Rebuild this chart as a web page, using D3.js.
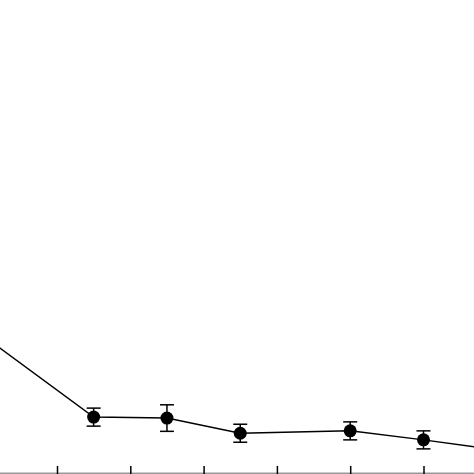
<!DOCTYPE html><html><head><script src="https://d3js.org/d3.v7.min.js"></script>
<style>body{margin:0;background:#fff}</style></head><body><svg id="c" width="474" height="474"></svg>
<script>
const xs = [-1, 0.5, 1.5, 2.5, 4, 5, 6];
const means = [29.1, 12.0, 11.8, 8.6, 9.1, 7.2, 5.1];
const errs = [0, 1.9, 2.8, 1.9, 1.9, 1.9, 0];
const ticks = [0, 1, 2, 3, 4, 5];
const svg = d3.select("#c");
const x = d3.scaleLinear().domain([0, 5]).range([57, 423.5]);
const y = d3.scaleLinear().domain([0, 100]).range([474, 0]);
const g = svg.append("g");
g.append("path").datum(xs.map((v,i)=>[v,means[i]]))
 .attr("d", d3.line().x(d=>x(d[0])).y(d=>y(d[1])))
 .attr("fill","none").attr("stroke","#000").attr("stroke-width",1.5);
const pts = xs.map((v,i)=>({x:v,m:means[i],e:errs[i]})).filter(d=>d.e>0);
pts.forEach(d=>{
  const cx=x(d.x), t=y(d.m+d.e), b=y(d.m-d.e);
  g.append("line").attr("x1",cx).attr("x2",cx).attr("y1",t).attr("y2",b).attr("stroke","#000").attr("stroke-width",1.5);
  [t,b].forEach(yy=>g.append("line").attr("x1",cx-7).attr("x2",cx+7).attr("y1",yy).attr("y2",yy).attr("stroke","#000").attr("stroke-width",1.5));
  g.append("circle").attr("cx",cx).attr("cy",y(d.m)).attr("r",6.5).attr("fill","#000");
});
const ax = svg.append("g").attr("transform","translate(0,474)")
 .call(d3.axisTop(x).tickValues(ticks).tickSize(8).tickFormat(""));
ax.select(".domain").attr("stroke","#999").attr("stroke-width",3).attr("d","M0,0H474");
ax.selectAll(".tick line").attr("stroke","#000").attr("stroke-width",1.5);
</script></body></html>
